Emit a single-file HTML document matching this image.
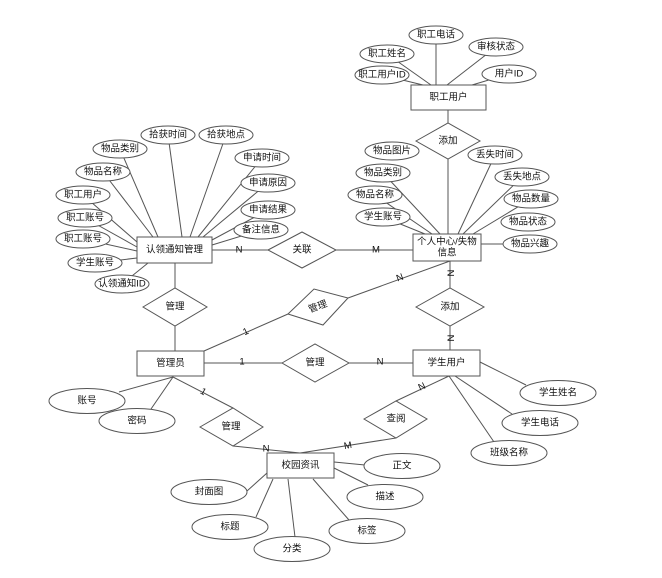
<!DOCTYPE html>
<html><head><meta charset="utf-8"><style>
html,body{margin:0;padding:0;background:#fff;}
svg{display:block;}
text{font-family:"Liberation Sans","Noto Sans CJK SC",sans-serif;font-size:9.5px;fill:#111;text-anchor:middle;dominant-baseline:central;}
line,polyline{stroke:#555;stroke-width:1;fill:none;}
ellipse,rect,polygon{fill:#fff;stroke:#555;stroke-width:1;}
</style></head><body>
<svg width="662" height="578" viewBox="0 0 662 578" xmlns="http://www.w3.org/2000/svg">
<!-- lines -->
<g>
<!-- 认领通知管理 attributes -->
<line x1="83" y1="195" x2="137" y2="242"/>
<line x1="85" y1="218" x2="137" y2="247"/>
<line x1="83" y1="239" x2="137" y2="251"/>
<line x1="95" y1="263" x2="137" y2="258"/>
<line x1="122" y1="284" x2="148" y2="263"/>
<line x1="103" y1="172" x2="153" y2="237"/>
<line x1="120" y1="149" x2="158" y2="237"/>
<line x1="168" y1="135" x2="182" y2="237"/>
<line x1="226" y1="135" x2="190" y2="237"/>
<line x1="262" y1="158" x2="198" y2="237"/>
<line x1="268" y1="183" x2="203" y2="237"/>
<line x1="268" y1="210" x2="212" y2="240"/>
<line x1="261" y1="230" x2="212" y2="245"/>
<!-- 职工用户 attributes -->
<line x1="436" y1="35" x2="436" y2="85"/>
<line x1="387" y1="54" x2="431" y2="85"/>
<line x1="382" y1="75" x2="423" y2="85"/>
<line x1="496" y1="47" x2="447" y2="85"/>
<line x1="509" y1="74" x2="472" y2="85"/>
<line x1="448" y1="110" x2="448" y2="123"/>
<line x1="448" y1="159" x2="448" y2="234"/>
<!-- 个人中心 attributes -->
<line x1="383" y1="173" x2="440" y2="234"/>
<line x1="375" y1="195" x2="432" y2="234"/>
<line x1="383" y1="217" x2="425" y2="234"/>
<line x1="495" y1="155" x2="458" y2="234"/>
<line x1="522" y1="177" x2="463" y2="234"/>
<line x1="531" y1="199" x2="473" y2="234"/>
<line x1="530" y1="244" x2="481" y2="244"/>
<!-- relations -->
<line x1="212" y1="250" x2="268" y2="250"/>
<line x1="336" y1="250" x2="413" y2="250"/>
<line x1="175" y1="263" x2="175" y2="288"/>
<line x1="175" y1="326" x2="175" y2="351"/>
<line x1="204" y1="351" x2="288" y2="314"/>
<line x1="348" y1="298" x2="450" y2="261"/>
<line x1="450" y1="261" x2="450" y2="288"/>
<line x1="450" y1="326" x2="450" y2="350"/>
<line x1="204" y1="363" x2="282" y2="363"/>
<line x1="349" y1="363" x2="413" y2="363"/>
<!-- 管理员 attrs -->
<line x1="173" y1="377" x2="119" y2="392"/>
<line x1="173" y1="377" x2="151" y2="409"/>
<line x1="173" y1="377" x2="233" y2="408"/>
<polyline points="233,446 300,453 396,438"/>
<line x1="449" y1="376" x2="396" y2="401"/>
<!-- 学生用户 attrs -->
<line x1="480" y1="362" x2="526" y2="385"/>
<line x1="455" y1="376" x2="512" y2="414"/>
<line x1="449" y1="376" x2="494" y2="442"/>
<!-- 校园资讯 attrs -->
<line x1="334" y1="462" x2="365" y2="465"/>
<line x1="334" y1="468" x2="368" y2="485"/>
<line x1="313" y1="479" x2="349" y2="520"/>
<line x1="288" y1="479" x2="295" y2="537"/>
<line x1="273" y1="479" x2="256" y2="517"/>
<line x1="267" y1="473" x2="247" y2="491"/>
</g>
<!-- entities -->
<rect x="137" y="237" width="75" height="26"/><text x="174.5" y="250">认领通知管理</text>
<rect x="411" y="85" width="75" height="25"/><text x="448.5" y="97.5">职工用户</text>
<rect x="413" y="234" width="68" height="27"/><text x="447" y="242">个人中心/失物</text><text x="447" y="253">信息</text>
<rect x="137" y="351" width="67" height="25"/><text x="170.5" y="363.5">管理员</text>
<rect x="413" y="350" width="67" height="26"/><text x="446.5" y="363">学生用户</text>
<rect x="267" y="453" width="67" height="25"/><text x="300.5" y="465.5">校园资讯</text>
<!-- diamonds -->
<polygon points="268,250 302,232 336,250 302,268"/><text x="302" y="250">关联</text>
<polygon points="416,141 448,123 480,141 448,159"/><text x="448" y="141">添加</text>
<polygon points="143,307 175,288 207,307 175,326"/><text x="175" y="307">管理</text>
<polygon points="288,314 314,289 348,298 323,325"/><text x="318" y="307" transform="rotate(-20 318 307)">管理</text>
<polygon points="416,307 450,288 484,307 450,326"/><text x="450" y="307">添加</text>
<polygon points="282,363 315,344 349,363 315,382"/><text x="315" y="363">管理</text>
<polygon points="364,419 396,401 427,419 396,438"/><text x="396" y="419">查阅</text>
<polygon points="200,427 233,408 263,427 233,446"/><text x="231" y="427">管理</text>
<!-- cardinalities -->
<text x="239" y="250">N</text><text x="376" y="250">M</text>
<text x="246" y="332" transform="rotate(-25 246 332)">1</text>
<text x="400" y="278" transform="rotate(-20 400 278)">N</text>
<text x="450" y="273" transform="rotate(90 450 273)">N</text>
<text x="450" y="338" transform="rotate(90 450 338)">N</text>
<text x="242" y="362">1</text><text x="380" y="362">N</text>
<text x="203" y="392" transform="rotate(30 203 392)">1</text>
<text x="266" y="449">N</text>
<text x="348" y="446" transform="rotate(-10 348 446)">M</text>
<text x="422" y="387" transform="rotate(-25 422 387)">N</text>
<!-- small ellipses -->
<g>
<ellipse cx="168" cy="135" rx="27" ry="9"/><text x="168" y="135">拾获时间</text>
<ellipse cx="226" cy="135" rx="27" ry="9"/><text x="226" y="135">拾获地点</text>
<ellipse cx="120" cy="149" rx="27" ry="9"/><text x="120" y="149">物品类别</text>
<ellipse cx="103" cy="172" rx="27" ry="9"/><text x="103" y="172">物品名称</text>
<ellipse cx="83" cy="195" rx="27" ry="9"/><text x="83" y="195">职工用户</text>
<ellipse cx="85" cy="218" rx="27" ry="9"/><text x="85" y="218">职工账号</text>
<ellipse cx="83" cy="239" rx="27" ry="9"/><text x="83" y="239">职工账号</text>
<ellipse cx="95" cy="263" rx="27" ry="9"/><text x="95" y="263">学生账号</text>
<ellipse cx="122" cy="284" rx="27" ry="9"/><text x="122" y="284">认领通知ID</text>
<ellipse cx="262" cy="158" rx="27" ry="9"/><text x="262" y="158">申请时间</text>
<ellipse cx="268" cy="183" rx="27" ry="9"/><text x="268" y="183">申请原因</text>
<ellipse cx="268" cy="210" rx="27" ry="9"/><text x="268" y="210">申请结果</text>
<ellipse cx="261" cy="230" rx="27" ry="9"/><text x="261" y="230">备注信息</text>
<ellipse cx="436" cy="35" rx="27" ry="9"/><text x="436" y="35">职工电话</text>
<ellipse cx="387" cy="54" rx="27" ry="9"/><text x="387" y="54">职工姓名</text>
<ellipse cx="382" cy="75" rx="27" ry="9"/><text x="382" y="75">职工用户ID</text>
<ellipse cx="496" cy="47" rx="27" ry="9"/><text x="496" y="47">审核状态</text>
<ellipse cx="509" cy="74" rx="27" ry="9"/><text x="509" y="74">用户ID</text>
<ellipse cx="392" cy="151" rx="27" ry="9"/><text x="392" y="151">物品图片</text>
<ellipse cx="383" cy="173" rx="27" ry="9"/><text x="383" y="173">物品类别</text>
<ellipse cx="375" cy="195" rx="27" ry="9"/><text x="375" y="195">物品名称</text>
<ellipse cx="383" cy="217" rx="27" ry="9"/><text x="383" y="217">学生账号</text>
<ellipse cx="495" cy="155" rx="27" ry="9"/><text x="495" y="155">丢失时间</text>
<ellipse cx="522" cy="177" rx="27" ry="9"/><text x="522" y="177">丢失地点</text>
<ellipse cx="531" cy="199" rx="27" ry="9"/><text x="531" y="199">物品数量</text>
<ellipse cx="528" cy="222" rx="27" ry="9"/><text x="528" y="222">物品状态</text>
<ellipse cx="530" cy="244" rx="27" ry="9"/><text x="530" y="244">物品兴趣</text>
</g>
<!-- large ellipses -->
<g>
<ellipse cx="87" cy="401" rx="38" ry="12.5"/><text x="87" y="401">账号</text>
<ellipse cx="137" cy="421" rx="38" ry="12.5"/><text x="137" y="421">密码</text>
<ellipse cx="558" cy="393" rx="38" ry="12.5"/><text x="558" y="393">学生姓名</text>
<ellipse cx="540" cy="423" rx="38" ry="12.5"/><text x="540" y="423">学生电话</text>
<ellipse cx="509" cy="453" rx="38" ry="12.5"/><text x="509" y="453">班级名称</text>
<ellipse cx="402" cy="466" rx="38" ry="12.5"/><text x="402" y="466">正文</text>
<ellipse cx="385" cy="497" rx="38" ry="12.5"/><text x="385" y="497">描述</text>
<ellipse cx="367" cy="531" rx="38" ry="12.5"/><text x="367" y="531">标签</text>
<ellipse cx="292" cy="549" rx="38" ry="12.5"/><text x="292" y="549">分类</text>
<ellipse cx="230" cy="527" rx="38" ry="12.5"/><text x="230" y="527">标题</text>
<ellipse cx="209" cy="492" rx="38" ry="12.5"/><text x="209" y="492">封面图</text>
</g>
</svg>
</body></html>
